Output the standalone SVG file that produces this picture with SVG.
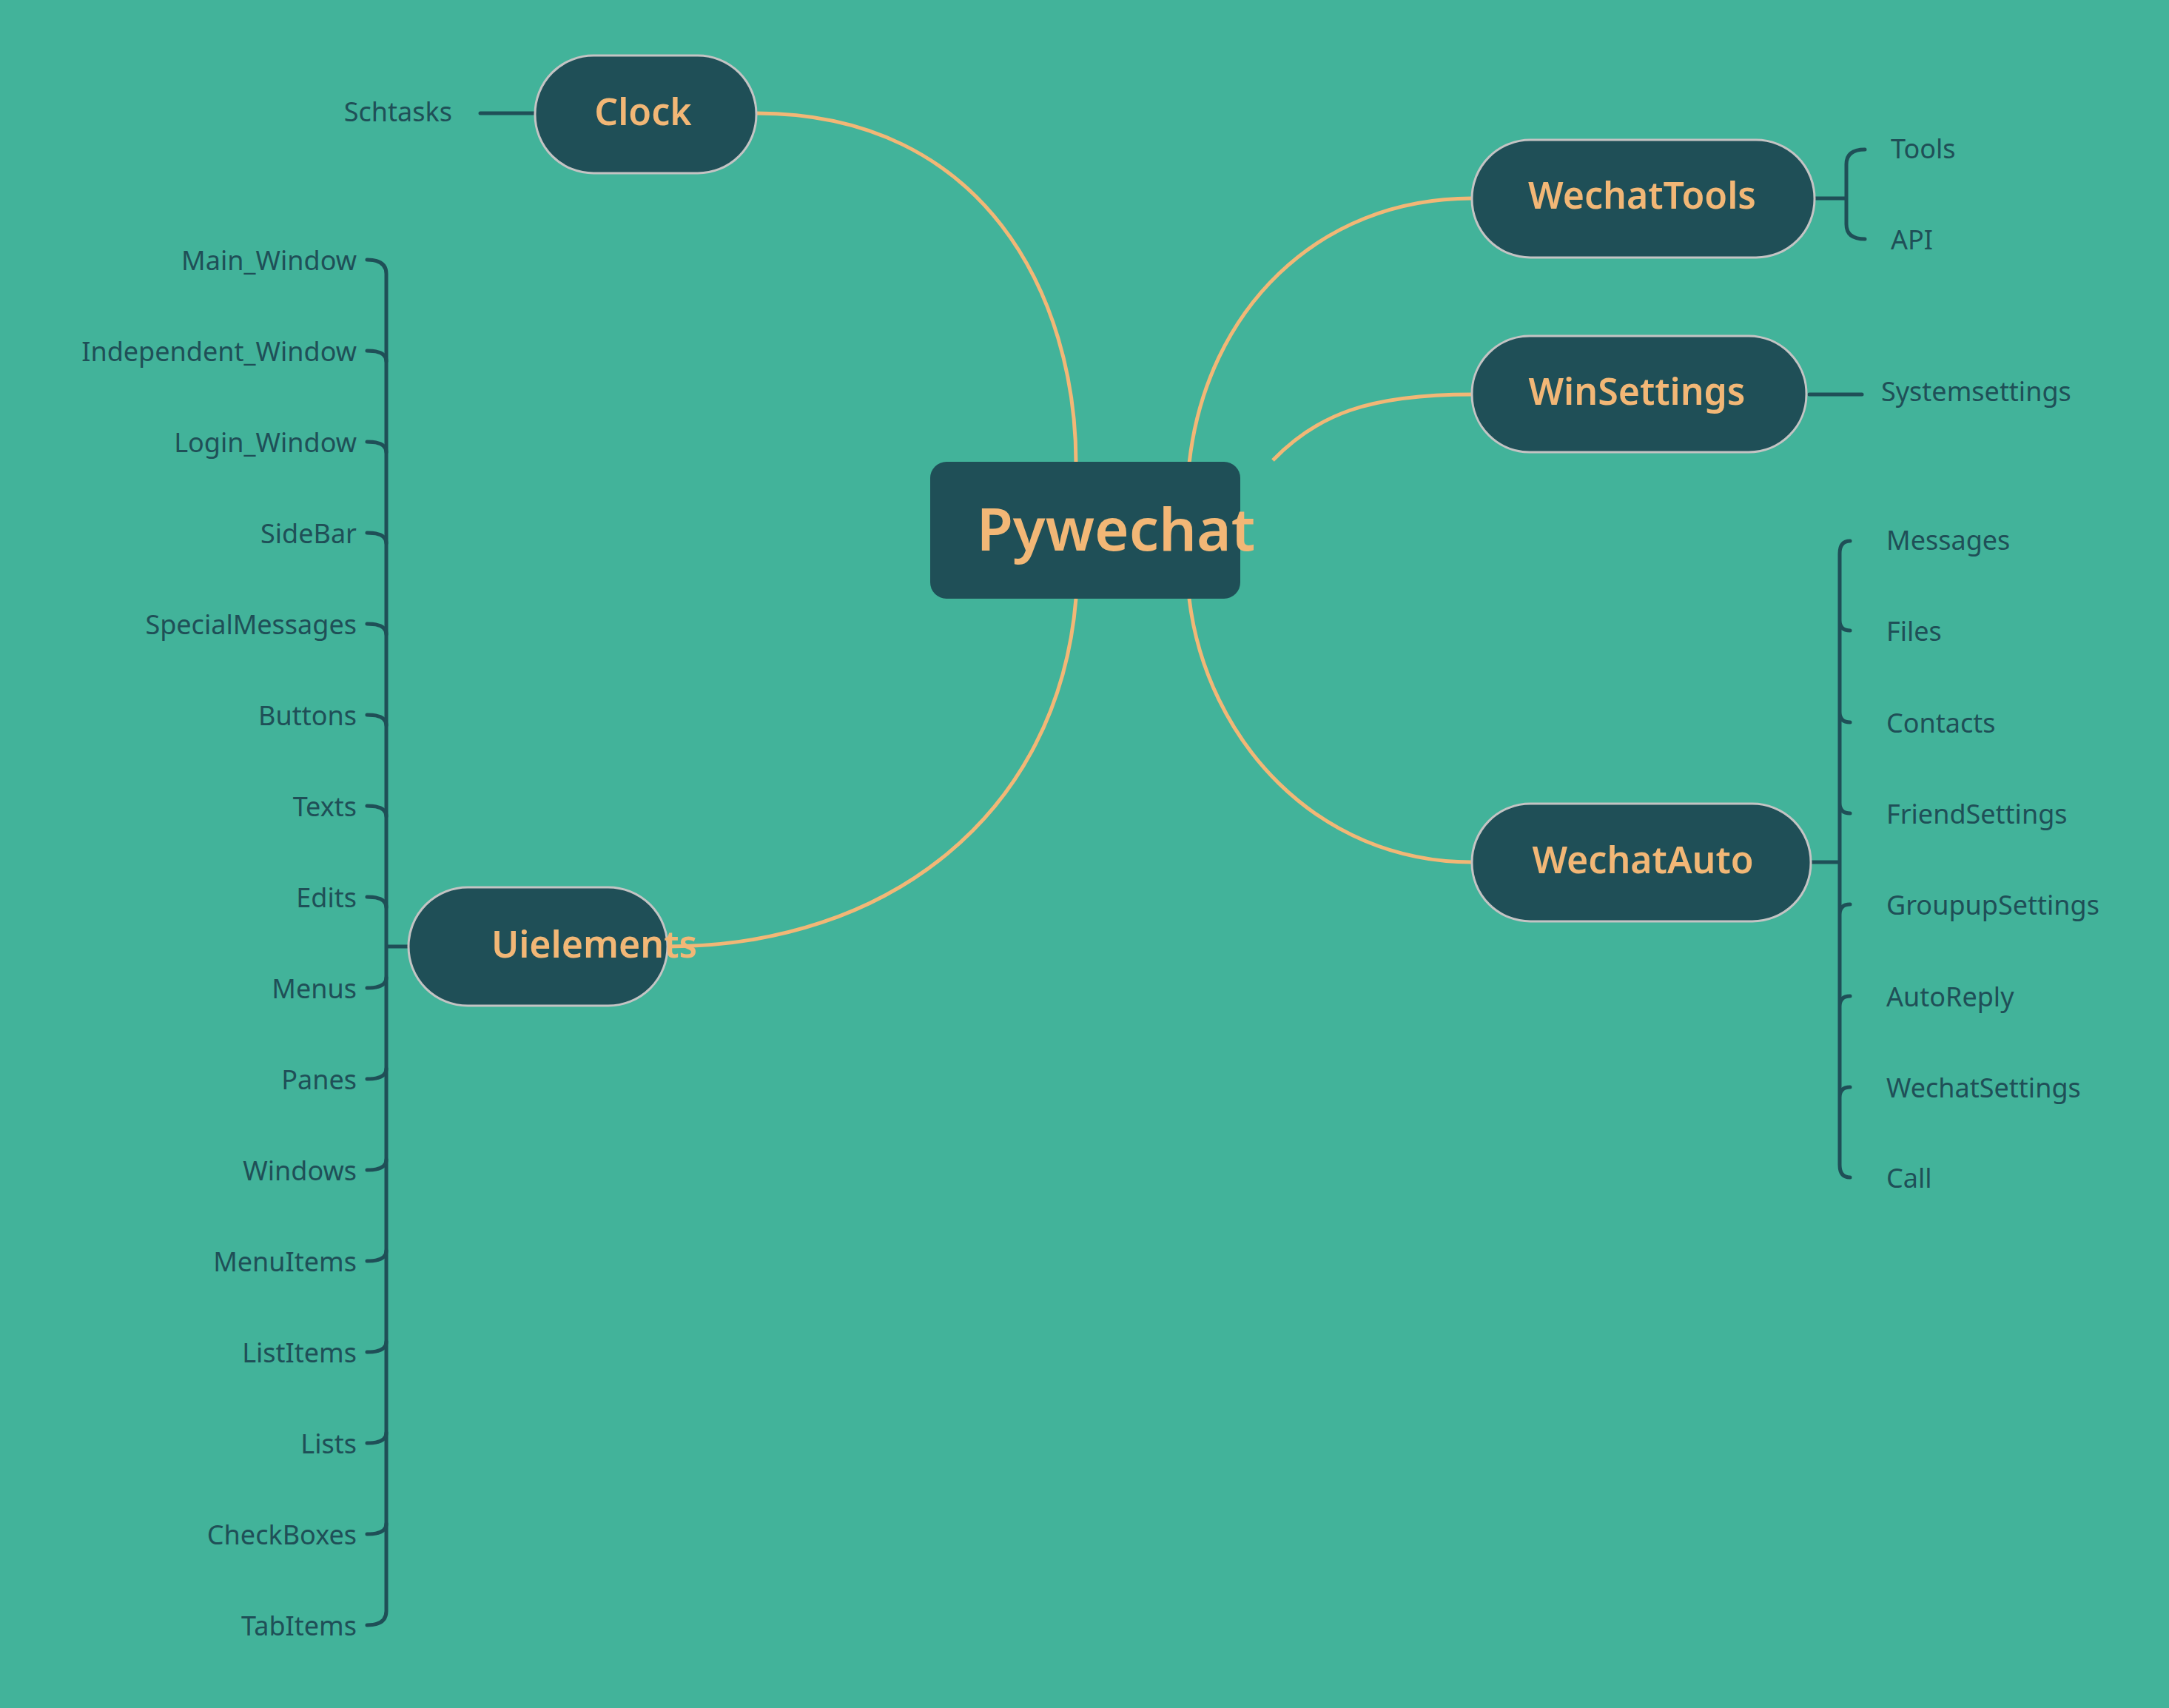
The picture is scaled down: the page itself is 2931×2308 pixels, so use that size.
<svg xmlns="http://www.w3.org/2000/svg" width="2931" height="2308" viewBox="0 0 2931 2308">
<style>
.n{fill:#1f4f57;stroke:#c4c4c4;stroke-width:3}
.t{fill:#f2b776;font-family:"Noto Sans",sans-serif;font-weight:600;text-anchor:middle;dominant-baseline:central}
.l{fill:#1f4f57;font-family:"Noto Sans",sans-serif;font-size:36px;dominant-baseline:central}
.r{text-anchor:end}
.c{fill:none;stroke:#f2b776;stroke-width:5}
.b{fill:none;stroke:#1f4f57;stroke-width:5;stroke-linecap:round}
</style>
<rect width="2931" height="2308" fill="#42b39a"/>
<g id="connectors">
<path class="c" d="M1022,153 C1330,153 1454,400 1454,626"/>
<path class="c" d="M1607,626 C1630,420 1780,268 1989,268"/>
<path class="c" d="M1720,622 C1780,560 1850,533 1989,533"/>
<path class="c" d="M1607,809 C1630,1000 1780,1165 1989,1165"/>
<path class="c" d="M1454,809 C1430,1100 1200,1279 902,1279"/>
<path class="b" d="M649,153 H723"/>
<path class="b" d="M2452,268 H2495 M2520,202 Q2495,202 2495,222 V303 Q2495,323 2520,323"/>
<path class="b" d="M2445,533 H2516"/>
<path class="b" d="M2447,1165 H2486 M2500,731 Q2486,731 2486,748 V1574 Q2486,1591 2500,1591 M2500,852 Q2486,852 2486,838 M2500,976 Q2486,976 2486,962 M2500,1099 Q2486,1099 2486,1085 M2500,1222 Q2486,1222 2486,1236 M2500,1346 Q2486,1346 2486,1360 M2500,1469 Q2486,1469 2486,1483"/>
<path class="b" d="M552,1279 H522 M496,351 Q522,351 522,370 V2177 Q522,2196 496,2196"/>
<g class="b">
<path d="M496,474 Q522,474 522,488 M496,597 Q522,597 522,611 M496,720 Q522,720 522,734 M496,843 Q522,843 522,857 M496,966 Q522,966 522,980 M496,1089 Q522,1089 522,1103 M496,1212 Q522,1212 522,1226"/>
<path d="M496,1335 Q522,1335 522,1321 M496,1458 Q522,1458 522,1444 M496,1581 Q522,1581 522,1567 M496,1704 Q522,1704 522,1690 M496,1827 Q522,1827 522,1813 M496,1950 Q522,1950 522,1936 M496,2073 Q522,2073 522,2059"/>
</g>
</g>
<g id="pywechat"><rect x="1257" y="624" width="419" height="185" rx="22" fill="#1f4f57"/><text class="t" x="1508" y="712" font-size="80">Pywechat</text></g>
<g id="clock"><rect class="n" x="723" y="75" width="299" height="159" rx="79"/><text class="t" x="869" y="150" font-size="50">Clock</text></g>
<g id="wechattools"><rect class="n" x="1989" y="189" width="463" height="159" rx="79"/><text class="t" x="2219" y="263" font-size="50">WechatTools</text></g>
<g id="winsettings"><rect class="n" x="1989" y="454" width="452" height="157" rx="78"/><text class="t" x="2212" y="528" font-size="50">WinSettings</text></g>
<g id="wechatauto"><rect class="n" x="1989" y="1086" width="458" height="159" rx="79"/><text class="t" x="2220" y="1161" font-size="50">WechatAuto</text></g>
<g id="uielements"><rect class="n" x="552" y="1199" width="350" height="160" rx="80"/><text class="t" x="803" y="1275" font-size="50">Uielements</text></g>
<g id="leaves">
<text class="l r" x="611" y="150">Schtasks</text>
<text class="l" x="2555" y="200">Tools</text>
<text class="l" x="2555" y="323">API</text>
<text class="l" x="2542" y="528">Systemsettings</text>
<text class="l" x="2549" y="729">Messages</text>
<text class="l" x="2549" y="852">Files</text>
<text class="l" x="2549" y="976">Contacts</text>
<text class="l" x="2549" y="1099">FriendSettings</text>
<text class="l" x="2549" y="1222">GroupupSettings</text>
<text class="l" x="2549" y="1346">AutoReply</text>
<text class="l" x="2549" y="1469">WechatSettings</text>
<text class="l" x="2549" y="1591">Call</text>
<text class="l r" x="482" y="351">Main_Window</text>
<text class="l r" x="482" y="474">Independent_Window</text>
<text class="l r" x="482" y="597">Login_Window</text>
<text class="l r" x="482" y="720">SideBar</text>
<text class="l r" x="482" y="843">SpecialMessages</text>
<text class="l r" x="482" y="966">Buttons</text>
<text class="l r" x="482" y="1089">Texts</text>
<text class="l r" x="482" y="1212">Edits</text>
<text class="l r" x="482" y="1335">Menus</text>
<text class="l r" x="482" y="1458">Panes</text>
<text class="l r" x="482" y="1581">Windows</text>
<text class="l r" x="482" y="1704">MenuItems</text>
<text class="l r" x="482" y="1827">ListItems</text>
<text class="l r" x="482" y="1950">Lists</text>
<text class="l r" x="482" y="2073">CheckBoxes</text>
<text class="l r" x="482" y="2196">TabItems</text>
</g>
</svg>
